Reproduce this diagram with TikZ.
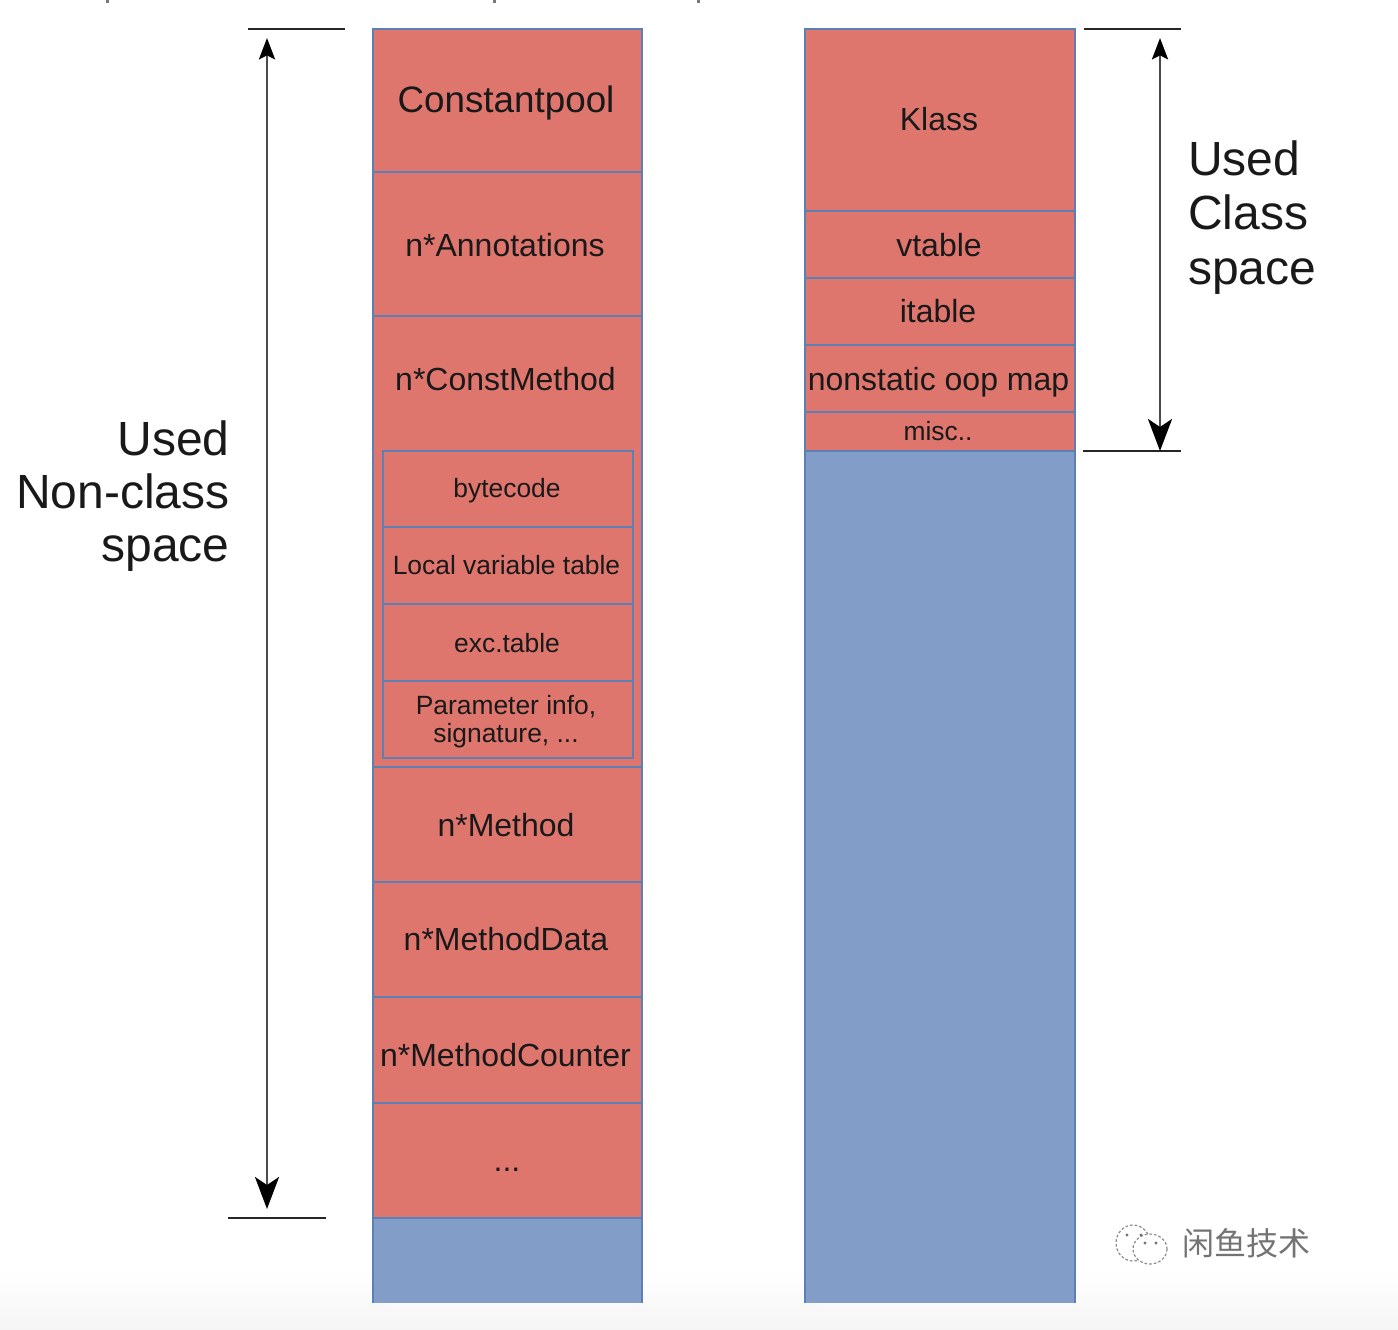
\documentclass[tikz,border=0pt]{standalone}
\usepackage{fontspec}
\setmainfont{Liberation Sans}
\newfontfamily\cjkfont{Noto Sans CJK SC}
\usetikzlibrary{arrows.meta}
\definecolor{cellred}{RGB}{222,118,110}
\definecolor{cellblue}{RGB}{130,158,200}
\definecolor{cellline}{RGB}{92,127,182}
\definecolor{arrowgrey}{RGB}{75,75,75}
\definecolor{markgrey}{RGB}{120,120,120}
\newcommand{\fs}[1]{\fontsize{#1}{#1}\selectfont}
% \cell[label options]{name}{x0}{y0}{x1}{y1}{text}{dx}{dy}
\newcommand{\cell}[9][]{%
  \pgfmathsetmacro{\cw}{#5-#3}\pgfmathsetmacro{\ch}{#6-#4}%
  \pgfmathsetmacro{\cx}{(#5+#3)/2}\pgfmathsetmacro{\cy}{(#6+#4)/2}%
  \node[cellbox,minimum width=\cw*0.75pt,minimum height=\ch*0.75pt] (#2) at (\cx,\cy) {};
  \node[celltext,#1] (#2t) at (\cx+#8,\cy+#9) {#7};}
\newcommand{\freecell}[5]{%
  \pgfmathsetmacro{\cw}{#4-#2}\pgfmathsetmacro{\ch}{#5-#3}%
  \pgfmathsetmacro{\cx}{(#4+#2)/2}\pgfmathsetmacro{\cy}{(#5+#3)/2}%
  \node[free,minimum width=\cw*0.75pt,minimum height=\ch*0.75pt] (#1) at (\cx,\cy) {};
  \draw[side] (#1.north west) -- (#1.south west);
  \draw[side] (#1.north east) -- (#1.south east);}
\tikzset{
  cellbox/.style={draw=cellline,line width=2.1pt,fill=cellred,inner sep=0pt,outer sep=0pt},
  celltext/.style={inner sep=0pt,outer sep=0pt,align=center,text=black!90},
  free/.style={fill=cellblue,inner sep=0pt,outer sep=0pt},
  big/.style={font=\fs{24}},
  small/.style={font=\fs{19.8}},
  tick/.style={line width=2.1pt,black!85},
  span/.style={line width=2.2pt,arrowgrey,
    {Stealth[length=16pt,width=12pt,inset=3pt,black]}-{Stealth[length=24pt,width=18pt,inset=6pt,black]}},
  side/.style={line width=2.1pt,cellline}
}
\begin{document}
\begin{tikzpicture}[x=0.75pt,y=-0.75pt]
\useasboundingbox (0,0) rectangle (1398,1330);
\shade[top color=white,bottom color=black!4] (0,1270) rectangle (1398,1330);
% stray marks on top edge
\foreach \mx in {107,494,698}{\fill[markgrey] (\mx-1.5,0) rectangle (\mx+1.5,3);}
% left column
\freecell{lfree}{373}{1218}{642}{1303}
\cell[font=\fs{27.6}]{cp}{373}{29}{642}{172}{Constantpool}{-1.5}{2.5}
\cell[big]{ann}{373}{172}{642}{316}{n*Annotations}{-2.5}{1}
\cell[big]{cm}{373}{316}{642}{767}{n*ConstMethod}{-2}{-162.5}
\cell[small]{bc}{383}{451}{633}{527}{bytecode}{-1}{2}
\cell[small]{lvt}{383}{527}{633}{604}{Local variable table}{-1.5}{0}
\cell[small]{exc}{383}{604}{633}{681}{exc.table}{-1}{1}
\cell[font=\fontsize{19.8}{21}\selectfont]{par}{383}{681}{633}{758}{Parameter info,\\signature, ...}{-2}{2}
\cell[big]{meth}{373}{767}{642}{882}{n*Method}{-1.5}{1}
\cell[big]{md}{373}{882}{642}{997}{n*MethodData}{-1.5}{0}
\cell[big]{mc}{373}{997}{642}{1103}{n*MethodCounter}{-2}{5}
\cell[big]{more}{373}{1103}{642}{1218}{...}{-0.5}{9}
% right column
\freecell{rfree}{805}{451}{1075}{1303}
\cell[big]{klass}{805}{29}{1075}{211}{Klass}{-1}{-1}
\cell[big]{vt}{805}{211}{1075}{278}{vtable}{-1}{1}
\cell[big]{it}{805}{278}{1075}{345}{itable}{-2}{0}
\cell[big]{oop}{805}{345}{1075}{412}{nonstatic oop map}{-1.5}{4}
\cell[small]{misc}{805}{412}{1075}{451}{misc..}{-2}{0}
% dimension lines
\coordinate (ltl) at (248,29); \coordinate (ltr) at (345,29);
\coordinate (lbl) at (228,1218); \coordinate (lbr) at (326,1218);
\coordinate (rtl) at (1084,29); \coordinate (rtr) at (1181,29);
\coordinate (rbl) at (1083,451); \coordinate (rbr) at (1181,451);
\coordinate (las) at (267,38); \coordinate (lae) at (267,1209);
\coordinate (ras) at (1160,38); \coordinate (rae) at (1160,451);
\draw[tick] (ltl) -- (ltr);
\draw[tick] (lbl) -- (lbr);
\draw[tick] (rtl) -- (rtr);
\draw[tick] (rbl) -- (rbr);
\draw[span] (las) -- (lae);
\draw[span] (ras) -- (rae);
\node[celltext,align=right,anchor=east,font=\fontsize{36}{40}\selectfont] (lused) at (229.5,496) {Used\\Non-class\\space};
\node[celltext,align=left,anchor=west,font=\fontsize{36}{41}\selectfont] (rused) at (1188,217.5) {Used\\Class\\space};
% watermark
\node[text=black!55,inner sep=0pt,font=\cjkfont\fs{24}] (wm) at (1246,1243) {闲鱼技术};
\begin{scope}[black!45,line width=0.9pt,dash pattern=on 2pt off 1.5pt]
\draw (1133,1243) ellipse (17 and 18);
\draw[fill=white] (1150,1249) ellipse (17 and 15);
\end{scope}
\fill[black!55] (1127,1235) circle (1.6);
\fill[black!55] (1141,1235) circle (1.6);
\fill[black!55] (1145,1243) circle (1.6);
\fill[black!55] (1156,1243) circle (1.6);
\end{tikzpicture}
\end{document}
